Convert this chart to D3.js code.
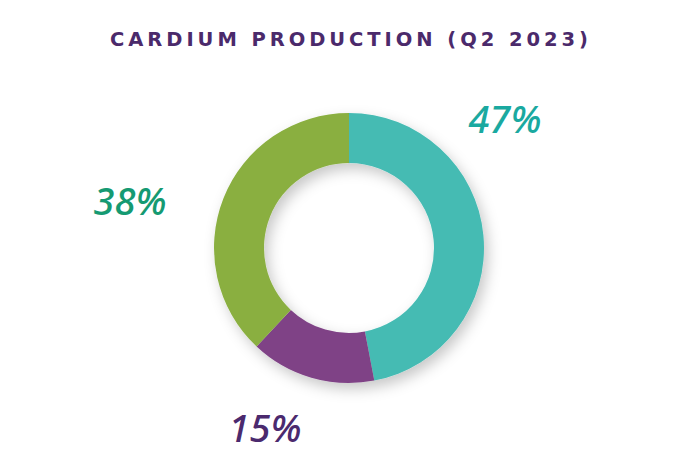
<!DOCTYPE html>
<html>
<head>
<meta charset="utf-8">
<script src="https://cdn.jsdelivr.net/npm/d3@7"></script>
<style>
  body { margin: 0; background: #fff; }
  svg { display: block; }
</style>
</head>
<body>
<svg id="chart"></svg>
<script>
// data
var categories = ["A", "B", "C"];
var shares = [47, 15, 38];
var labels = ["47%", "15%", "38%"];
var colors = ["#45bbb3", "#7f4386", "#8aaf41"];
var labelColors = ["#1aa9a0", "#4b2a6e", "#159a72"];

var width = 700, height = 476;
var cx = 349, cy = 248;

var svg = d3.select("#chart")
  .attr("width", width)
  .attr("height", height);

// soft drop shadow under the ring
var defs = svg.append("defs");
var f = defs.append("filter")
  .attr("id", "shadow")
  .attr("x", "-30%").attr("y", "-30%")
  .attr("width", "160%").attr("height", "160%");
f.append("feDropShadow")
  .attr("dx", 4).attr("dy", 6)
  .attr("stdDeviation", 7)
  .attr("flood-color", "#000")
  .attr("flood-opacity", 0.22);

// title
svg.append("text")
  .attr("x", 110)
  .attr("y", 46)
  .attr("textLength", 478)
  .attr("lengthAdjust", "spacing")
  .style("font-family", "'DejaVu Sans', sans-serif")
  .style("font-weight", 700)
  .style("font-size", "19.5px")
  .style("fill", "#4b2a6b")
  .text("CARDIUM PRODUCTION (Q2 2023)");

var pie = d3.pie().sort(null).value(function (d) { return d; });
var arc = d3.arc().innerRadius(85).outerRadius(135);

var g = svg.append("g")
  .attr("transform", "translate(" + cx + "," + cy + ")");

g.append("g")
  .attr("filter", "url(#shadow)")
  .selectAll("path")
  .data(pie(shares))
  .enter().append("path")
  .attr("d", arc)
  .style("fill", function (d, i) { return colors[i]; });

// label positions, placed around the ring like the original
var labelPos = [
  { x: 505, y: 133 },  // 47%
  { x: 265, y: 442 },  // 15%
  { x: 130, y: 215 }   // 38%
];

svg.selectAll(".pct")
  .data(labels)
  .enter().append("text")
  .attr("class", "pct")
  .attr("x", function (d, i) { return labelPos[i].x; })
  .attr("y", function (d, i) { return labelPos[i].y; })
  .attr("text-anchor", "middle")
  .style("font-family", "'Noto Sans', sans-serif")
  .style("font-style", "italic")
  .style("font-weight", 500)
  .style("font-size", "38px")
  .style("fill", function (d, i) { return labelColors[i]; })
  .text(function (d) { return d; });
</script>
</body>
</html>
